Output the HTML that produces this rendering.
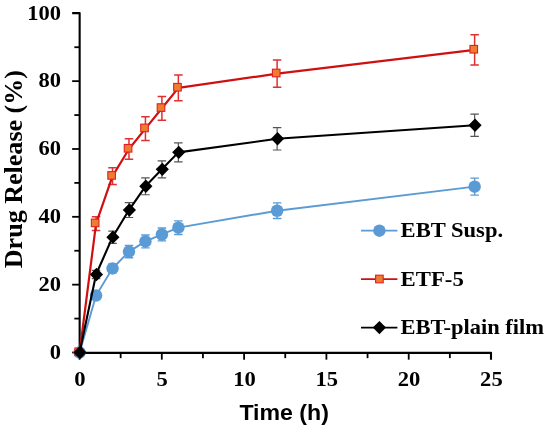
<!DOCTYPE html>
<html><head><meta charset="utf-8"><title>Drug Release</title>
<style>html,body{margin:0;padding:0;background:#fff}svg{display:block}</style></head>
<body>
<svg width="550" height="430" viewBox="0 0 550 430">
<rect width="550" height="430" fill="#fff"/>
<g stroke="#000" stroke-width="2.1" fill="none" stroke-linejoin="round">
<path d="M72.15 13.10 H79.65 V352.85"/>
<path d="M78.65 352.85 H491.00 V359.65000000000003"/>
</g>
<g stroke="#000" stroke-width="1.8" fill="none">
<path d="M72.15 352.50 H79.65"/>
<path d="M74.35000000000001 318.58 H79.65"/>
<path d="M72.15 284.66 H79.65"/>
<path d="M74.35000000000001 250.74 H79.65"/>
<path d="M72.15 216.82 H79.65"/>
<path d="M74.35000000000001 182.90 H79.65"/>
<path d="M72.15 148.98 H79.65"/>
<path d="M74.35000000000001 115.06 H79.65"/>
<path d="M72.15 81.14 H79.65"/>
<path d="M74.35000000000001 47.22 H79.65"/>
<path d="M79.50 352.85 V359.65000000000003"/>
<path d="M120.65 352.85 V358.15000000000003"/>
<path d="M161.80 352.85 V359.65000000000003"/>
<path d="M202.95 352.85 V358.15000000000003"/>
<path d="M244.10 352.85 V359.65000000000003"/>
<path d="M285.25 352.85 V358.15000000000003"/>
<path d="M326.40 352.85 V359.65000000000003"/>
<path d="M367.55 352.85 V358.15000000000003"/>
<path d="M408.70 352.85 V359.65000000000003"/>
<path d="M449.85 352.85 V358.15000000000003"/>
</g>
<g font-family="'Liberation Serif', serif" font-weight="bold" font-size="20.8" fill="#000">
<text x="49.75" y="358.70" textLength="11.25" lengthAdjust="spacingAndGlyphs">0</text>
<text x="38.50" y="290.86" textLength="22.50" lengthAdjust="spacingAndGlyphs">20</text>
<text x="38.50" y="223.02" textLength="22.50" lengthAdjust="spacingAndGlyphs">40</text>
<text x="38.50" y="155.18" textLength="22.50" lengthAdjust="spacingAndGlyphs">60</text>
<text x="38.50" y="87.34" textLength="22.50" lengthAdjust="spacingAndGlyphs">80</text>
<text x="27.25" y="19.50" textLength="33.75" lengthAdjust="spacingAndGlyphs">100</text>
<text x="74.25" y="386" textLength="11.30" lengthAdjust="spacingAndGlyphs">0</text>
<text x="156.55" y="386" textLength="11.30" lengthAdjust="spacingAndGlyphs">5</text>
<text x="233.20" y="386" textLength="22.60" lengthAdjust="spacingAndGlyphs">10</text>
<text x="315.50" y="386" textLength="22.60" lengthAdjust="spacingAndGlyphs">15</text>
<text x="397.80" y="386" textLength="22.60" lengthAdjust="spacingAndGlyphs">20</text>
<text x="480.10" y="386" textLength="22.60" lengthAdjust="spacingAndGlyphs">25</text>
</g>
<text transform="translate(21.8,268.2) rotate(-90)" textLength="198.2" lengthAdjust="spacingAndGlyphs" font-family="'Liberation Serif', serif" font-weight="bold" font-size="24.5" fill="#000">Drug Release (%)</text>
<text x="239.4" y="420.2" textLength="89.5" lengthAdjust="spacingAndGlyphs" font-family="'Liberation Sans', sans-serif" font-weight="bold" font-size="22.8" fill="#000">Time (h)</text>
<g stroke="#5B9BD5" stroke-width="1.4" fill="none">
<path d="M96.06 292.12 V298.91 M91.81 292.12 h8.5 M91.81 298.91 h8.5"/>
<path d="M112.52 263.97 V272.79 M108.27 263.97 h8.5 M108.27 272.79 h8.5"/>
<path d="M128.98 245.48 V257.69 M124.73 245.48 h8.5 M124.73 257.69 h8.5"/>
<path d="M145.44 234.97 V247.86 M141.19 234.97 h8.5 M141.19 247.86 h8.5"/>
<path d="M161.90 228.01 V240.90 M157.65 228.01 h8.5 M157.65 240.90 h8.5"/>
<path d="M178.36 220.89 V234.46 M174.11 220.89 h8.5 M174.11 234.46 h8.5"/>
<path d="M277.12 202.91 V218.52 M272.87 202.91 h8.5 M272.87 218.52 h8.5"/>
<path d="M474.64 178.15 V195.11 M470.39 178.15 h8.5 M470.39 195.11 h8.5"/>
</g>
<polyline points="79.60,352.50 96.06,295.51 112.52,268.38 128.98,251.59 145.44,241.41 161.90,234.46 178.36,227.67 277.12,210.71 474.64,186.63" fill="none" stroke="#5B9BD5" stroke-width="1.9" stroke-linejoin="round"/>
<circle cx="79.60" cy="352.50" r="6.25" fill="#5B9BD5"/>
<circle cx="96.06" cy="295.51" r="6.25" fill="#5B9BD5"/>
<circle cx="112.52" cy="268.38" r="6.25" fill="#5B9BD5"/>
<circle cx="128.98" cy="251.59" r="6.25" fill="#5B9BD5"/>
<circle cx="145.44" cy="241.41" r="6.25" fill="#5B9BD5"/>
<circle cx="161.90" cy="234.46" r="6.25" fill="#5B9BD5"/>
<circle cx="178.36" cy="227.67" r="6.25" fill="#5B9BD5"/>
<circle cx="277.12" cy="210.71" r="6.25" fill="#5B9BD5"/>
<circle cx="474.64" cy="186.63" r="6.25" fill="#5B9BD5"/>
<g stroke="#E03030" stroke-width="1.5" fill="none">
<path d="M96.06 216.82 V230.39 M91.81 216.82 h8.5 M91.81 230.39 h8.5"/>
<path d="M112.52 167.64 V184.60 M108.27 167.64 h8.5 M108.27 184.60 h8.5"/>
<path d="M128.98 138.63 V159.33 M124.73 138.63 h8.5 M124.73 159.33 h8.5"/>
<path d="M145.44 116.76 V140.50 M141.19 116.76 h8.5 M141.19 140.50 h8.5"/>
<path d="M161.90 96.40 V120.15 M157.65 96.40 h8.5 M157.65 120.15 h8.5"/>
<path d="M178.36 75.03 V100.81 M174.11 75.03 h8.5 M174.11 100.81 h8.5"/>
<path d="M277.12 60.11 V87.25 M272.87 60.11 h8.5 M272.87 87.25 h8.5"/>
<path d="M474.64 34.84 V65.03 M470.39 34.84 h8.5 M470.39 65.03 h8.5"/>
</g>
<polyline points="79.60,352.50 96.06,223.60 112.52,176.12 128.98,148.98 145.44,128.63 161.90,108.28 178.36,87.92 277.12,73.68 474.64,49.93" fill="none" stroke="#D01010" stroke-width="2.2" stroke-linejoin="round"/>
<rect x="74.90" y="348.00" width="7.6" height="7.6" fill="#ED7D31" stroke="#E02020" stroke-width="1.1"/>
<rect x="91.36" y="219.10" width="7.6" height="7.6" fill="#ED7D31" stroke="#E02020" stroke-width="1.1"/>
<rect x="107.82" y="171.62" width="7.6" height="7.6" fill="#ED7D31" stroke="#E02020" stroke-width="1.1"/>
<rect x="124.28" y="144.48" width="7.6" height="7.6" fill="#ED7D31" stroke="#E02020" stroke-width="1.1"/>
<rect x="140.74" y="124.13" width="7.6" height="7.6" fill="#ED7D31" stroke="#E02020" stroke-width="1.1"/>
<rect x="157.20" y="103.78" width="7.6" height="7.6" fill="#ED7D31" stroke="#E02020" stroke-width="1.1"/>
<rect x="173.66" y="83.42" width="7.6" height="7.6" fill="#ED7D31" stroke="#E02020" stroke-width="1.1"/>
<rect x="272.42" y="69.18" width="7.6" height="7.6" fill="#ED7D31" stroke="#E02020" stroke-width="1.1"/>
<rect x="469.94" y="45.43" width="7.6" height="7.6" fill="#ED7D31" stroke="#E02020" stroke-width="1.1"/>
<g stroke="#555" stroke-width="1.2" fill="none">
<path d="M96.06 270.41 V278.55 M91.81 270.41 h8.5 M91.81 278.55 h8.5"/>
<path d="M112.52 231.07 V243.28 M108.27 231.07 h8.5 M108.27 243.28 h8.5"/>
<path d="M128.98 202.57 V217.50 M124.73 202.57 h8.5 M124.73 217.50 h8.5"/>
<path d="M145.44 177.81 V194.77 M141.19 177.81 h8.5 M141.19 194.77 h8.5"/>
<path d="M161.90 160.85 V177.81 M157.65 160.85 h8.5 M157.65 177.81 h8.5"/>
<path d="M178.36 142.87 V161.87 M174.11 142.87 h8.5 M174.11 161.87 h8.5"/>
<path d="M277.12 127.61 V150.00 M272.87 127.61 h8.5 M272.87 150.00 h8.5"/>
<path d="M474.64 114.04 V136.43 M470.39 114.04 h8.5 M470.39 136.43 h8.5"/>
</g>
<polyline points="79.60,352.50 96.06,274.48 112.52,237.17 128.98,210.04 145.44,186.29 161.90,169.33 178.36,152.37 277.12,138.80 474.64,125.24" fill="none" stroke="#000" stroke-width="2.1" stroke-linejoin="round"/>
<path d="M80.00 345.80 l6.6 6.7 l-6.6 6.7 l-6.6 -6.7 z" fill="#000"/>
<path d="M96.46 267.78 l6.6 6.7 l-6.6 6.7 l-6.6 -6.7 z" fill="#000"/>
<path d="M112.92 230.47 l6.6 6.7 l-6.6 6.7 l-6.6 -6.7 z" fill="#000"/>
<path d="M129.38 203.34 l6.6 6.7 l-6.6 6.7 l-6.6 -6.7 z" fill="#000"/>
<path d="M145.84 179.59 l6.6 6.7 l-6.6 6.7 l-6.6 -6.7 z" fill="#000"/>
<path d="M162.30 162.63 l6.6 6.7 l-6.6 6.7 l-6.6 -6.7 z" fill="#000"/>
<path d="M178.76 145.67 l6.6 6.7 l-6.6 6.7 l-6.6 -6.7 z" fill="#000"/>
<path d="M277.52 132.10 l6.6 6.7 l-6.6 6.7 l-6.6 -6.7 z" fill="#000"/>
<path d="M475.04 118.54 l6.6 6.7 l-6.6 6.7 l-6.6 -6.7 z" fill="#000"/>
<path d="M361 230.7 H397.4" stroke="#5B9BD5" stroke-width="1.8"/>
<circle cx="379.40" cy="230.70" r="6.25" fill="#5B9BD5"/>
<text x="400.6" y="237.30" textLength="102.5" lengthAdjust="spacingAndGlyphs" font-family="'Liberation Serif', serif" font-weight="bold" font-size="21.5" fill="#000">EBT Susp.</text>
<path d="M361 279.1 H397.4" stroke="#D01010" stroke-width="1.8"/>
<rect x="375.60" y="275.20" width="7.6" height="7.6" fill="#ED7D31" stroke="#E02020" stroke-width="1.1"/>
<text x="400.6" y="285.70" textLength="63.2" lengthAdjust="spacingAndGlyphs" font-family="'Liberation Serif', serif" font-weight="bold" font-size="21.5" fill="#000">ETF-5</text>
<path d="M361 327.6 H397.4" stroke="#000" stroke-width="1.8"/>
<path d="M379.40 320.90 l6.6 6.7 l-6.6 6.7 l-6.6 -6.7 z" fill="#000"/>
<text x="400.6" y="334.20" textLength="143.5" lengthAdjust="spacingAndGlyphs" font-family="'Liberation Serif', serif" font-weight="bold" font-size="21.5" fill="#000">EBT-plain film</text>
</svg>
</body></html>
